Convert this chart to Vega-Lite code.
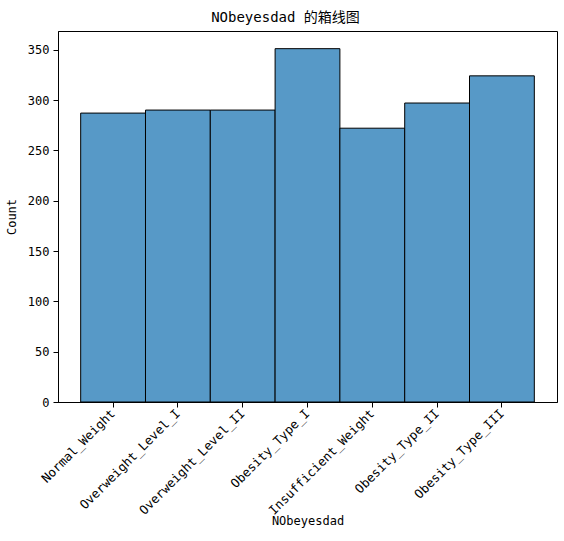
{
  "$schema": "https://vega.github.io/schema/vega-lite/v6.json",
  "autosize": "none",
  "width": 499,
  "height": 371,
  "padding": {"left": 58, "top": 31, "right": 7, "bottom": 139},
  "background": "white",
  "config": {
    "font": "DejaVu Sans Mono",
    "view": {"stroke": "black", "strokeWidth": 1},
    "axis": {
      "labelFont": "DejaVu Sans Mono",
      "titleFont": "DejaVu Sans Mono",
      "labelColor": "black",
      "titleColor": "black",
      "domainColor": "black",
      "tickColor": "black",
      "grid": false,
      "labelFontSize": 12,
      "titleFontSize": 12,
      "titleFontWeight": "normal",
      "tickSize": 5
    }
  },
  "title": {
    "text": "NObeyesdad 的箱线图",
    "font": "DejaVu Sans Mono, Noto Sans CJK SC",
    "fontSize": 14,
    "fontWeight": "normal",
    "color": "black",
    "offset": 6,
    "dx": -22
  },
  "data": {
    "values": [
      {"NObeyesdad": "Normal_Weight", "Count": 287},
      {"NObeyesdad": "Overweight_Level_I", "Count": 290},
      {"NObeyesdad": "Overweight_Level_II", "Count": 290},
      {"NObeyesdad": "Obesity_Type_I", "Count": 351},
      {"NObeyesdad": "Insufficient_Weight", "Count": 272},
      {"NObeyesdad": "Obesity_Type_II", "Count": 297},
      {"NObeyesdad": "Obesity_Type_III", "Count": 324}
    ]
  },
  "mark": {"type": "bar", "fill": "#5799c7", "stroke": "black", "strokeWidth": 1},
  "encoding": {
    "x": {
      "field": "NObeyesdad",
      "type": "nominal",
      "sort": null,
      "scale": {"paddingInner": 0, "paddingOuter": 0.35},
      "axis": {
        "title": "NObeyesdad",
        "labelAngle": -45,
        "labelAlign": "right",
        "labelBaseline": "middle",
        "labelFontSize": 12.5,
        "labelPadding": 4,
        "titlePadding": -1
      }
    },
    "y": {
      "field": "Count",
      "type": "quantitative",
      "scale": {"domain": [0, 368.55], "nice": false, "zero": true},
      "axis": {"title": "Count", "values": [0, 50, 100, 150, 200, 250, 300, 350], "labelPadding": 4, "titlePadding": 9}
    }
  }
}
